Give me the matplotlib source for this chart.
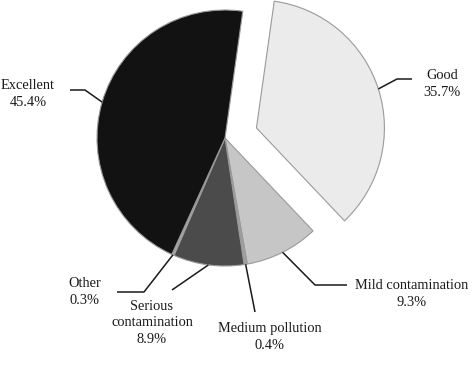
import matplotlib
matplotlib.use("Agg")
import matplotlib.pyplot as plt
import numpy as np

# water quality share, clockwise from "Good"
labels = ["Good", "Mild contamination", "Medium pollution",
          "Serious contamination", "Other", "Excellent"]
text_labels = ["Good", "Mild contamination", "Medium pollution",
               "Serious\ncontamination", "Other", "Excellent"]
shares = [35.7, 9.3, 0.4, 8.9, 0.3, 45.4]
colors = ["#ebebeb", "#c6c6c6", "#a0a0a0", "#4b4b4b", "#a8a8a8", "#121212"]

W, H = 474, 375
cx, cy, R = 225, H - 138, 128
explode = [33, 0, 0, 0, 0, 0]  # pixels, pie offsets in data units

# label layout in pixel coords (y from top): text centre, elbow, line end
text_pos = [(442, 84), (412, 294), (270, 337), (152, 323), (85, 292), (28, 94)]
elbows = [(397, 79), (315, 285), None, None, (144, 292), (85, 90)]
ends = [(412, 79), (347, 285), (255, 312), (172, 290), (117, 292), (70, 90)]

fig = plt.figure(figsize=(W / 100, H / 100), dpi=100)
ax = fig.add_axes([0, 0, 1, 1])

wedges, _ = ax.pie(shares, colors=colors, explode=explode, startangle=82,
                   counterclock=False, center=(cx, cy), radius=R,
                   wedgeprops=dict(edgecolor="#9a9a9a", linewidth=0.8),
                   frame=True)
ax.set_xlim(0, W)
ax.set_ylim(0, H)
ax.set_aspect("equal")
ax.axis("off")

for i, w in enumerate(wedges):
    mid = np.deg2rad((w.theta1 + w.theta2) / 2)
    wx, wy = w.center
    ax_pt = (wx + R * np.cos(mid), wy + R * np.sin(mid))
    pts = [ax_pt]
    if elbows[i] is not None:
        pts.append((elbows[i][0], H - elbows[i][1]))
    pts.append((ends[i][0], H - ends[i][1]))
    xs, ys = zip(*pts)
    ax.plot(xs, ys, color="#1a1a1a", lw=1.1, solid_capstyle="butt")
    tx, ty = text_pos[i]
    ax.text(tx, H - ty, "%s\n%.1f%%" % (text_labels[i], shares[i]),
            ha="center", va="center", fontsize=10.4, family="Liberation Serif",
            linespacing=1.38, color="#1a1a1a")

fig.savefig("out.png", dpi=100)
